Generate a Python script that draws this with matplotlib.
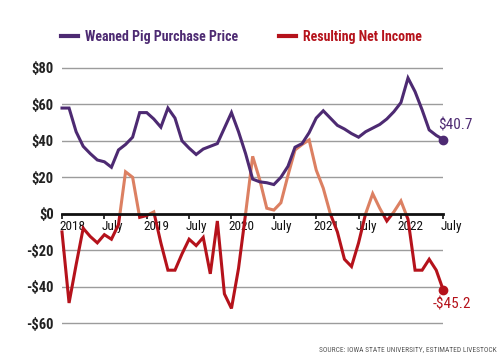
import matplotlib
matplotlib.use("Agg")
import matplotlib.pyplot as plt
import matplotlib.transforms as mtransforms
from matplotlib import font_manager
from matplotlib.lines import Line2D
from matplotlib.patches import Rectangle

# ---------- data (monthly, Jan 2018 .. Jul 2022) ----------
months = list(range(55))

pig_price = [58, 58, 45, 37, 33, 29.5, 28.5, 25.5, 35, 38, 42, 55.5,
             55.5, 52, 47.5, 58, 52.5, 40, 36, 32.5, 35.5, 37, 38.5, 47,
             55.5, 45, 33, 19, 17.5, 17, 16, 20, 26, 36.5, 38.5, 44.5,
             52.5, 56.5, 52.5, 48.5, 46.5, 44, 42, 45, 47, 49, 52, 56,
             61, 74.5, 67, 57, 46, 43, 40.7]

net_income = [-10, -49, -28, -8, -12.5, -16, -11.5, -14, -6, 23, 20, -2,
              -1, 1, -16, -31, -31, -22, -14, -17.5, -13, -33, -4, -44,
              -52, -30, 0, 31.5, 18.7, 3, 2, 6, 21, 35, 38, 40.5,
              24, 14, 0, -10, -25, -29, -16, 0, 11, 3, -4, 1,
              7, -3, -31, -31, -25, -31, -42]

tick_months = [0, 6, 12, 18, 24, 30, 36, 42, 48, 54]
tick_labels = ["2018", "July", "2019", "July", "2020", "July",
               "2021", "July", "2022", "July"]
y_ticks = [-60, -40, -20, 0, 20, 40, 60, 80]

price_label = "$40.7"
income_label = "-$45.2"
source_text = "SOURCE: IOWA STATE UNIVERSITY, ESTIMATED LIVESTOCK"

PURPLE = "#4d2a72"
RED = "#b5121b"
ORANGE = "#dc8062"
GRID = "#9c9c9c"


# pick a narrow family, preferably one that has a bold face
def _w(f):
    w = f.weight
    return w if isinstance(w, int) else font_manager.weight_dict.get(w, 400)


fonts = font_manager.fontManager.ttflist
narrow = sorted({f.name for f in fonts if "Narrow" in f.name or "Condensed" in f.name})
with_bold = [n for n in narrow if any(f.name == n and _w(f) >= 600 for f in fonts)]
preferred = ["Liberation Sans Narrow", "Roboto Condensed", "Open Sans Condensed"]
FONT = next((n for n in preferred if n in with_bold), None)
if FONT is None:
    FONT = with_bold[0] if with_bold else (narrow[0] if narrow else "Liberation Sans")
plt.rcParams["font.family"] = [FONT, "DejaVu Sans"]


def money(v):
    return f"-${abs(v):.0f}" if v < 0 else f"${v:.0f}"


fig = plt.figure(figsize=(5, 3.57), dpi=100)
ax = fig.add_axes([0.124, 0.0748, 0.7626, 0.7552])
ax.set_xlim(0, 54)
ax.set_ylim(-64, 84)

# grid + zero line
ax.set_yticks(y_ticks)
ax.set_yticklabels([money(v) for v in y_ticks])
ax.yaxis.grid(True, color=GRID, lw=1)
ax.set_axisbelow(True)
for s in ["top", "right", "left"]:
    ax.spines[s].set_visible(False)
ax.spines["bottom"].set_position(("data", 0))
ax.spines["bottom"].set_color("#111111")
ax.spines["bottom"].set_linewidth(2)
ax.spines["bottom"].set_zorder(4)
ax.tick_params(axis="y", length=0, pad=6, labelsize=10.5, labelcolor="#222222")
for lbl in ax.get_yticklabels():
    lbl.set_fontweight("bold")

ax.set_xticks(tick_months)
ax.set_xticklabels(tick_labels)
ax.tick_params(axis="x", direction="out", length=3.5, width=1.2, color="#111111",
               pad=1, labelsize=9.5, labelcolor="#111111")
shift = mtransforms.ScaledTranslation(-3 / 100, 0, fig.dpi_scale_trans)
for lbl in ax.get_xticklabels():
    lbl.set_ha("left")
    lbl.set_transform(lbl.get_transform() + shift)

# net income: dark red below zero, orange above
neg_line, = ax.plot(months, net_income, color=RED, lw=2.2, zorder=3,
                    solid_joinstyle="miter")
pos_line, = ax.plot(months, net_income, color=ORANGE, lw=2.2, zorder=3,
                    solid_joinstyle="miter")
pos_line.set_clip_path(Rectangle((-5, 0), 70, 200, transform=ax.transData))
neg_line.set_clip_path(Rectangle((-5, -200), 70, 200, transform=ax.transData))

ax.plot(months, pig_price, color=PURPLE, lw=2.2, zorder=5,
        solid_joinstyle="miter", clip_on=False)

# end dots + labels
ax.plot(months[-1], pig_price[-1], "o", color=PURPLE, ms=6, zorder=6, clip_on=False)
ax.plot(months[-1], net_income[-1], "o", color=RED, ms=6, zorder=6, clip_on=False)
ax.annotate(price_label, (months[-1], pig_price[-1]), xytext=(9, 10),
            textcoords="offset points", ha="center", va="center",
            color=PURPLE, fontsize=11, annotation_clip=False)
ax.annotate(income_label, (months[-1], net_income[-1]), xytext=(6.5, -10),
            textcoords="offset points", ha="center", va="center",
            color=RED, fontsize=11, annotation_clip=False)

# legend
handles = [Line2D([], [], color=PURPLE, lw=3), Line2D([], [], color=RED, lw=3)]
leg = fig.legend(handles, ["Weaned Pig Purchase Price", "Resulting Net Income"],
                 loc="center", bbox_to_anchor=(0.483, 0.896), ncol=2,
                 frameon=False, handlelength=1.2, handletextpad=0.5,
                 columnspacing=3.0, prop={"size": 10, "weight": "bold"})
for txt, c in zip(leg.get_texts(), [PURPLE, RED]):
    txt.set_color(c)

fig.text(0.994, 0.022, source_text, ha="right", va="center",
         fontsize=5.3, color="#555555")

fig.savefig("out.png", dpi=100)
